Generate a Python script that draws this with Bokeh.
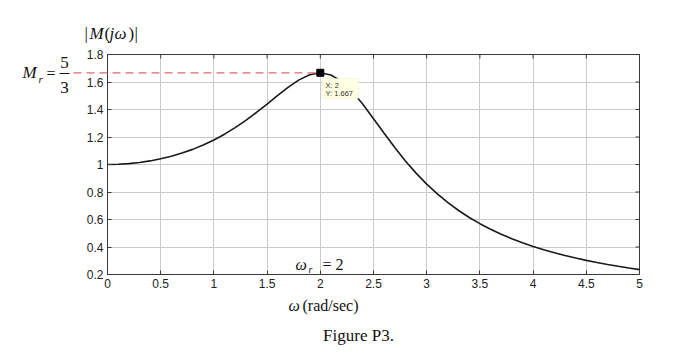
from bokeh.plotting import figure
from bokeh.models import (FixedTicker, Label, BoxAnnotation, Arrow, LinearAxis, Grid,
                          Range1d, ColumnDataSource)
from bokeh.embed import file_html
from bokeh.resources import INLINE

# ---- data ----
omega = [0.0, 0.1, 0.2, 0.3, 0.4, 0.5, 0.6, 0.7, 0.8, 0.9,
         1.0, 1.1, 1.2, 1.3, 1.4, 1.5, 1.6, 1.7, 1.8, 1.9,
         2.0, 2.1, 2.2, 2.3, 2.4, 2.5, 2.6, 2.7, 2.8, 2.9,
         3.0, 3.1, 3.2, 3.3, 3.4, 3.5, 3.6, 3.7, 3.8, 3.9,
         4.0, 4.1, 4.2, 4.3, 4.4, 4.5, 4.6, 4.7, 4.8, 4.9, 5.0]
mag = [1.0000, 1.0016, 1.0064, 1.0146, 1.0261, 1.0412, 1.0600, 1.0829, 1.1100, 1.1418,
       1.1785, 1.2205, 1.2678, 1.3206, 1.3782, 1.4396, 1.5025, 1.5631, 1.6156, 1.6528,
       1.6667, 1.6513, 1.6050, 1.5311, 1.4375, 1.3333, 1.2266, 1.1230, 1.0261, 0.9374,
       0.8575, 0.7860, 0.7222, 0.6654, 0.6147, 0.5696, 0.5292, 0.4929, 0.4603, 0.4309,
       0.4042, 0.3800, 0.3580, 0.3379, 0.3195, 0.3026, 0.2870, 0.2727, 0.2594, 0.2471,
       0.2357]
peak_w = 2
peak_m = 1.667

x_ticks = [0, 0.5, 1, 1.5, 2, 2.5, 3, 3.5, 4, 4.5, 5]
x_labels = ["0", "0.5", "1", "1.5", "2", "2.5", "3", "3.5", "4", "4.5", "5"]
y_ticks = [0.2, 0.4, 0.6, 0.8, 1.0, 1.2, 1.4, 1.6, 1.8]
y_labels = ["0.2", "0.4", "0.6", "0.8", "1", "1.2", "1.4", "1.6", "1.8"]

X_MIN, X_MAX = 0, 5
Y_MIN, Y_MAX = 0.2, 1.8

# ---- layout (image pixels) ----
W, H = 692, 349
FL, FR, FT, FB = 107, 639, 54, 274      # where the axes box sits on the canvas
def dx(X):
    return X_MIN + (X - FL) * (X_MAX - X_MIN) / (FR - FL)
def dy(Y):
    return Y_MAX - (Y - FT) * (Y_MAX - Y_MIN) / (FB - FT)

# the plotting frame spans the whole canvas so that outer texts are not clipped;
# the axes are pinned to the box edges with fixed_location
p = figure(width=W, height=H, output_backend="svg", toolbar_location=None,
           x_range=Range1d(dx(0), dx(W)), y_range=Range1d(dy(H), dy(0)),
           x_axis_location=None, y_axis_location=None, min_border=0,
           background_fill_color="white", border_fill_color="white")
p.outline_line_color = None
p.xgrid.visible = False
p.ygrid.visible = False

AX = "#3a3a3a"
TICK_FONT = "Liberation Sans"
def make_axis(ticks, labels, loc, bounds):
    ax = LinearAxis(ticker=FixedTicker(ticks=ticks), fixed_location=loc, bounds=bounds,
                    major_tick_in=4, major_tick_out=0, minor_tick_line_color=None,
                    axis_line_color=AX, major_tick_line_color=AX,
                    major_label_text_font=TICK_FONT, major_label_text_font_size="12px",
                    major_label_text_color="#222222", major_label_standoff=4)
    ax.major_label_overrides = {t: l for t, l in zip(ticks, labels)}
    return ax

p.add_layout(make_axis(x_ticks, x_labels, Y_MIN, (X_MIN, X_MAX)), "below")
p.add_layout(make_axis(y_ticks, y_labels, X_MIN, (Y_MIN, Y_MAX)), "left")

# grid restricted to the box
GRID = "#cbcbcb"
p.add_layout(Grid(dimension=0, ticker=FixedTicker(ticks=x_ticks), bounds=(X_MIN, X_MAX),
                  cross_bounds=(Y_MIN, Y_MAX), grid_line_color=GRID,
                  grid_line_width=1, level="underlay"))
p.add_layout(Grid(dimension=1, ticker=FixedTicker(ticks=y_ticks), bounds=(Y_MIN, Y_MAX),
                  cross_bounds=(X_MIN, X_MAX), grid_line_color=GRID,
                  grid_line_width=1, level="underlay"))

# box: top and right edges with inward ticks
tlx = (X_MAX - X_MIN) * 4 / (FR - FL)
tly = (Y_MAX - Y_MIN) * 4 / (FB - FT)
p.segment(x0=[X_MIN, X_MAX], y0=[Y_MAX, Y_MIN], x1=[X_MAX, X_MAX], y1=[Y_MAX, Y_MAX],
          line_color=AX, line_width=1)
p.segment(x0=x_ticks, y0=[Y_MAX] * len(x_ticks), x1=x_ticks,
          y1=[Y_MAX - tly] * len(x_ticks), line_color=AX, line_width=1)
p.segment(x0=[X_MAX] * len(y_ticks), y0=y_ticks, x1=[X_MAX - tlx] * len(y_ticks),
          y1=y_ticks, line_color=AX, line_width=1)

# curve
src = ColumnDataSource(data=dict(w=omega, m=mag))
p.line("w", "m", source=src, line_color="#1a1a1a", line_width=1.6)

# red dashed Mr line
p.add_layout(Arrow(end=None, x_start=dx(73), y_start=peak_m, x_end=peak_w, y_end=peak_m,
                   line_color="#dd6b6b", line_dash="8 5", line_width=1.2))

# peak marker
p.scatter([peak_w], [peak_m], marker="square", size=7, fill_color="black",
          line_color="black")

# data tip
p.add_layout(BoxAnnotation(left=dx(322), right=dx(358), top=dy(78), bottom=dy(98),
                           fill_color="#ffffe1", fill_alpha=1.0,
                           line_color="#e6e6c8", line_width=1, level="annotation"))
tip_style = dict(text_font=TICK_FONT, text_font_size="7.5px", text_color="#333333",
                 text_align="left", text_baseline="middle")
p.add_layout(Label(x=dx(325), y=dy(84.5), text=f"X: {peak_w}", **tip_style))
p.add_layout(Label(x=dx(325), y=dy(93), text=f"Y: {peak_m}", **tip_style))

SERIF = "Liberation Serif"
def lab(X, Y, t, size=16, italic=False, align="left"):
    # Y is the wanted baseline in image pixels; compensate the renderer's baseline drop
    yb = Y - 0.3 * size
    p.add_layout(Label(x=dx(X), y=dy(yb), text=t, text_font=SERIF,
                       text_font_size=f"{size}px",
                       text_font_style="italic" if italic else "normal",
                       text_color="#111111", text_align=align,
                       text_baseline="alphabetic"))

# |M(jw)|
lab(84, 38, "|", 17)
lab(89, 38, "M", 17, italic=True)
lab(104, 38, "(", 17)
lab(109, 38, "j", 17, italic=True)
lab(114, 38, "ω", 17, italic=True)
lab(128, 38, ")", 17)
lab(134, 38, "|", 17)

# M_r = 5/3
lab(22, 77, "M", 17, italic=True)
lab(38, 82, "r", 11, italic=True)
lab(46, 78, "=", 16)
lab(64, 67, "5", 17, align="center")
lab(64, 92, "3", 17, align="center")
p.add_layout(Arrow(end=None, x_start=dx(59), y_start=dy(73), x_end=dx(69),
                   y_end=dy(73), line_color="#111111", line_width=1))

# omega_r = 2
lab(295, 269, "ω", 16, italic=True)
lab(308, 272, "r", 10, italic=True)
lab(322, 269, "=", 16)
lab(335, 269, "2", 16)

# x-axis label
lab(288, 310, "ω", 16, italic=True)
lab(302, 310, "(rad/sec)", 16)

# caption
lab(358, 340, "Figure P3.", 17, align="center")

open("out.html", "w").write(file_html(p, INLINE))
